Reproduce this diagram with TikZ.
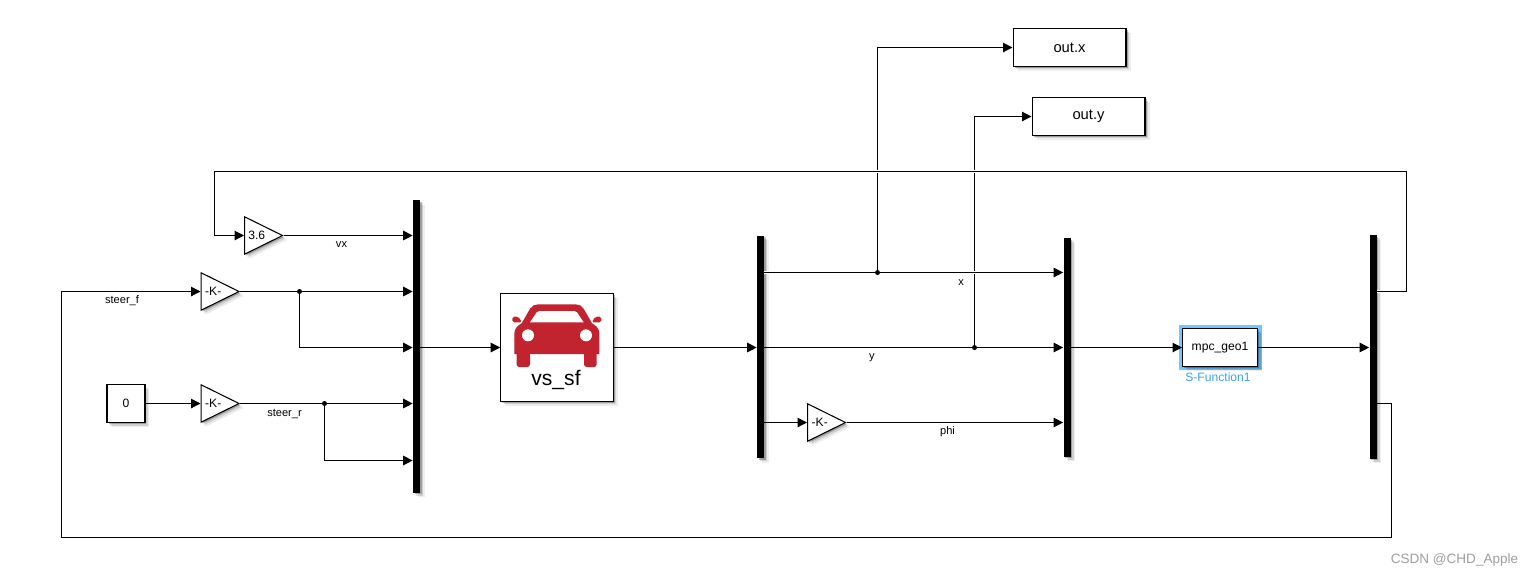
\documentclass[tikz,border=0pt]{standalone}
\usepackage{fontspec}
\setmainfont{Liberation Sans}
\usetikzlibrary{arrows.meta, shapes.geometric, shadows}

\definecolor{carred}{RGB}{193,35,47}
\definecolor{selblue}{RGB}{58,160,245}
\definecolor{halo}{RGB}{115,198,255}

\tikzset{
  softshadow/.style = {general shadow={shadow xshift=.09cm, shadow yshift=-.09cm, fill=black, opacity=.07},
                       general shadow={shadow xshift=.06cm, shadow yshift=-.06cm, fill=black, opacity=.12},
                       general shadow={shadow xshift=.03cm, shadow yshift=-.03cm, fill=black, opacity=.25}},
  wire/.style = {line width=.6pt, -{Triangle[length=.19cm,width=.19cm]}},
  over/.style = {preaction={draw, white, line width=2pt}},
  block/.style = {draw, line width=.6pt, fill=white, softshadow, inner sep=0pt,
                  font=\fontsize{6.9}{8}\selectfont},
  outblock/.style = {block, minimum width=2.26cm, minimum height=.75cm, font=\fontsize{8.4}{10}\selectfont},
  bus/.style = {fill=black, softshadow, minimum width=.14cm, inner sep=0pt},
  gain/.style = {block, isosceles triangle, isosceles triangle stretches, minimum width=.75cm,
                 minimum height=.76cm, anchor=west},
  sig/.style = {font=\fontsize{6.3}{8}\selectfont, inner sep=0pt},
  dot/.style = {fill, circle, inner sep=0pt, minimum size=.1cm}
}

\begin{document}
\begin{tikzpicture}[x=.02cm, y=-.02cm]
 \useasboundingbox (0,0) rectangle (1533,576);

 % mux and demux bars
 \node[bus, minimum height=5.86cm] (busA) at (416.5,346.5) {};
 \node[bus, minimum height=4.46cm] (busB) at (760.5,347) {};
 \node[bus, minimum height=4.38cm] (busC) at (1067,347.5) {};
 \node[bus, minimum height=4.48cm] (busD) at (1373,347) {};

 % blocks
 \node[gain] (gainV) at (244,235.5) {3.6};
 \node[gain] (gainF) at (200.5,291.5) {-K-};
 \node[gain] (gainR) at (200.5,403.5) {-K-};
 \node[gain] (gainP) at (807,422.5) {-K-};
 \node[block, minimum width=.76cm, minimum height=.76cm] (zero) at (126,403.5) {0};
 \node[block, minimum width=2.25cm, minimum height=2.15cm] (car) at (557,347.5) {};
 \node[fill=halo, inner sep=0pt, minimum width=1.66cm, minimum height=.9cm] (sel) at (1220,347.5) {};
 \node[block, minimum width=1.5cm, minimum height=.75cm] (geo) at (1220,347.5) {mpc\_geo1};
 \node[sig, text=selblue, font=\fontsize{6.9}{8}\selectfont] (geoname) at (1218,377) {S-Function1};
 \node[outblock] (outx) at (1069.5,47.5) {out.x};
 \node[outblock] (outy) at (1088.5,116.5) {out.y};

 % car icon
 \begin{scope}[shift={(490,280)}, x=.00667cm, y=-.00667cm]
  \fill[carred, rounded corners=1pt] (67,110) -- (85,110) -- (96,127) -- (67,127) -- cycle;
  \fill[carred, rounded corners=1pt] (334,110) -- (316,110) -- (305,127) -- (334,127) -- cycle;
  \fill[carred, rounded corners=1.5pt] (80,215) rectangle (120,261);
  \fill[carred, rounded corners=1.5pt] (282,215) rectangle (320,261);
  \fill[carred] (73,222) -- (73,160) .. controls (73,145) and (85,135) .. (95,130)
    -- (120,86) .. controls (125,77) and (135,73) .. (145,73) -- (257,73)
    .. controls (267,73) and (276,77) .. (281,86) -- (306,130)
    .. controls (316,135) and (328,145) .. (328,160) -- (328,222) -- cycle;
  \fill[white] (120,127) -- (140,97) .. controls (142,94) and (145,93) .. (148,93) -- (253,93)
    .. controls (256,93) and (259,94) .. (261,97) -- (281,127) -- cycle;
  \fill[white] (114,166) circle (18);
  \fill[white] (288,166) circle (18);
 \end{scope}
 \node[sig, font=\fontsize{12}{14}\selectfont] (carname) at (556,379.5) {vs\_sf};

 % junctions and bends
 \coordinate (inA2) at (busA.west |- 0,347.5);
 \coordinate (inA4) at (busA.west |- 0,460.5);
 \coordinate (junF) at (299.5,291.5);
 \coordinate (junR) at (324.5,403.5);
 \coordinate (junX) at (877.5,272.5);
 \coordinate (junY) at (974.5,347.5);
 \coordinate (topR) at (1406.5,291.5);
 \coordinate (topL) at (214.5,171.5);
 \coordinate (botR) at (1391.5,403.5);
 \coordinate (botL) at (61.5,537.5);

 % connectors
 \draw[wire] (gainV.east) -- (gainV.east -| busA.west);
 \draw[wire] (gainF.east) -- (gainF.east -| busA.west);
 \draw[wire] (junF) |- (inA2);
 \draw[wire] (zero.east) -- (gainR.west);
 \draw[wire] (gainR.east) -- (gainR.east -| busA.west);
 \draw[wire] (junR) |- (inA4);
 \draw[wire] (inA2 -| busA.east) -- (car.west);
 \draw[wire] (car.east) -- (car.east -| busB.west);
 \draw[wire] (junX) |- (outx.west);
 \draw[wire] (junY) |- (outy.west);
 \draw[wire, over] (junX -| busB.east) -- (junX -| busC.west);
 \draw[wire] (junY -| busB.east) -- (junY -| busC.west);
 \draw[wire] (gainP.west -| busB.east) -- (gainP.west);
 \draw[wire] (gainP.east) -- (gainP.east -| busC.west);
 \draw[wire] (junY -| busC.east) -- (geo.west);
 \draw[wire] (geo.east) -- (geo.east -| busD.west);
 \draw[wire, over] (topR -| busD.east) -- (topR) |- (topL) |- (gainV.west);
 \draw[wire] (botR -| busD.east) -- (botR) |- (botL) |- (gainF.west);
 \foreach \jun in {junF, junR, junX, junY}
  \node[dot] at (\jun) {};

 % signal names
 \node[sig] (lblV) at (341.5,245) {vx};
 \node[sig] (lblF) at (122,301) {steer\_f};
 \node[sig] (lblR) at (284.5,414) {steer\_r};
 \node[sig] (lblX) at (961,282.5) {x};
 \node[sig] (lblY) at (872,358) {y};
 \node[sig] (lblP) at (947.5,432) {phi};

 \node[text=black!38, inner sep=0pt, font=\fontsize{7.7}{9}\selectfont] (mark) at (1454.5,559.5) {CSDN @CHD\_Apple};
\end{tikzpicture}
\end{document}
